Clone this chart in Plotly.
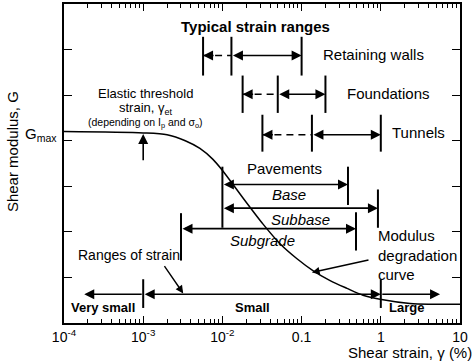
import numpy as np
import plotly.graph_objects as go

# ---------------- data ----------------
# Modulus degradation curve: shear strain (%) vs shear modulus (arbitrary units)
curve_strain = [0.0001, 0.001, 0.002, 0.0034, 0.0052, 0.0076, 0.0102, 0.0167,
                0.0326, 0.0534, 0.0875, 0.139, 0.229, 0.374, 0.596, 0.977, 2.34, 10]
curve_G = [4.20, 4.17, 4.13, 4.00, 3.83, 3.59, 3.33, 2.83,
           2.17, 1.74, 1.41, 1.15, 0.93, 0.76, 0.61, 0.52, 0.43, 0.41]

# Typical strain ranges (%): [dashed start, solid start, end]
walls_range = [0.0057, 0.013, 0.1]
foundations_range = [0.018, 0.05, 0.2]
tunnels_range = [0.032, 0.135, 1.0]

# Pavement layers (%): [start, end]
base_range = [0.01, 0.385]
subbase_range = [0.01, 0.92]
subgrade_range = [0.003, 0.486]

# Ranges of strain: class bounds and arrow extents (%)
class_bounds = [0.001, 1.0]
class_extent = [0.00018, 5.6]
elastic_threshold = 0.001

x_tick_vals = [1e-4, 1e-3, 1e-2, 0.1, 1, 10]
x_tick_text = ['10<sup>-4</sup>', '10<sup>-3</sup>', '10<sup>-2</sup>', '0.1', '1', '10']
minor_vals = [m * 10.0 ** e for e in range(-4, 1) for m in range(2, 10)]

# ---------------- figure ----------------
FONT = 'Liberation Sans, Arial, sans-serif'
fig = go.Figure()

fig.add_trace(go.Scatter(x=curve_strain, y=curve_G, mode='lines',
                         line=dict(color='black', width=1.5, shape='spline', smoothing=0.8),
                         hoverinfo='skip', showlegend=False))

# vertical bars
bars = [
    (walls_range[0], 5.43, 6.28), (walls_range[1], 5.43, 6.28), (walls_range[2], 5.43, 6.28),
    (foundations_range[0], 4.61, 5.43), (foundations_range[1], 4.61, 5.43), (foundations_range[2], 4.61, 5.43),
    (tunnels_range[0], 3.76, 4.57), (tunnels_range[1], 3.76, 4.57), (tunnels_range[2], 3.76, 4.57),
    (base_range[0], 2.09, 3.43), (base_range[1], 2.59, 3.43),
    (subbase_range[1], 2.09, 2.93),
    (subgrade_range[0], 1.37, 2.41), (subgrade_range[1], 1.59, 2.43),
    (class_bounds[0], 0.33, 0.96), (class_bounds[1], 0.33, 0.96),
]
bx, by = [], []
for xv, y0, y1 in bars:
    bx += [xv, xv, None]
    by += [y0, y1, None]
fig.add_trace(go.Scatter(x=bx, y=by, mode='lines', line=dict(color='black', width=2),
                         hoverinfo='skip', showlegend=False))

# dashed segments
for rng, yv in [(walls_range, 5.87), (foundations_range, 5.02), (tunnels_range, 4.13)]:
    fig.add_trace(go.Scatter(x=[rng[0], rng[1]], y=[yv, yv], mode='lines',
                             line=dict(color='black', width=1.6, dash='7px,5px'),
                             hoverinfo='skip', showlegend=False))

annotations = []
L = np.log10


def arrow(tip, tail, y, both=False, ytail=None):
    annotations.append(dict(x=L(tip), y=y, ax=L(tail), ay=y if ytail is None else ytail,
                            xref='x', yref='y', axref='x', ayref='y', text='', showarrow=True,
                            arrowhead=2, startarrowhead=2, arrowsize=1.25, startarrowsize=1.25,
                            arrowwidth=1.6, arrowcolor='black',
                            arrowside='end+start' if both else 'end'))


def head_left(tip, y):
    annotations.append(dict(x=L(tip), y=y, ax=12, ay=0, xref='x', yref='y', text='',
                            showarrow=True, arrowhead=2, arrowsize=1.25, arrowwidth=1.6,
                            arrowcolor='black'))


for rng, yv in [(walls_range, 5.87), (foundations_range, 5.02), (tunnels_range, 4.13)]:
    head_left(rng[0], yv)
    arrow(rng[2], rng[1], yv, both=True)

arrow(base_range[1], base_range[0], 3.04, both=True)
arrow(subbase_range[1], subbase_range[0], 2.52, both=True)
arrow(subgrade_range[1], subgrade_range[0], 2.07, both=True)

arrow(class_extent[0], class_bounds[0], 0.63)
arrow(class_bounds[1], class_bounds[0], 0.63, both=True)
arrow(class_extent[1], class_bounds[1], 0.63)

# elastic threshold arrow (pointing up to the curve)
annotations.append(dict(x=L(elastic_threshold), y=4.15, ax=L(elastic_threshold), ay=3.54,
                        xref='x', yref='y', axref='x', ayref='y', text='', showarrow=True,
                        arrowhead=2, arrowsize=1.25, arrowwidth=1.6, arrowcolor='black'))
# "Ranges of strain" pointer
annotations.append(dict(x=L(0.0032), y=0.65, ax=L(0.0018), ay=1.28,
                        xref='x', yref='y', axref='x', ayref='y', text='', showarrow=True,
                        arrowhead=2, arrowsize=1.1, arrowwidth=1.4, arrowcolor='black'))
# "Modulus degradation curve" pointer
annotations.append(dict(x=L(0.135), y=1.11, ax=L(0.73), ay=1.39,
                        xref='x', yref='y', axref='x', ayref='y', text='', showarrow=True,
                        arrowhead=2, arrowsize=1.1, arrowwidth=1.4, arrowcolor='black'))


def P(px, py):
    return (px - 64) / 396.0, (323 - py) / 321.0


def text(s, px, py, size=15, xanchor='center', align='center', angle=0):
    xp, yp = P(px, py)
    annotations.append(dict(x=xp, y=yp, xref='paper', yref='paper', text=s, showarrow=False,
                            xanchor=xanchor, yanchor='middle', align=align, textangle=angle,
                            font=dict(family=FONT, size=size, color='black')))


text('<b>Typical strain ranges</b>', 255, 25)
text('Retaining walls', 373, 53)
text('Foundations', 388, 92)
text('Tunnels', 418, 131)
text('Pavements', 284, 168)
text('<i>Base</i>', 289, 194)
text('<i>Subbase</i>', 300, 219)
text('<i>Subgrade</i>', 262, 240)
text('Elastic threshold', 145, 92, size=13)
text('strain, γ<sub>et</sub>', 146, 107, size=13)
text('(depending on I<sub>p</sub> and σ<sub>o</sub>)', 145, 122, size=10.5)
text('Ranges of strain', 129, 255, size=14)
text('Modulus<br>degradation<br>curve', 376, 255, xanchor='left', align='left')
text('<b>Very small</b>', 103, 307, size=13)
text('<b>Small</b>', 252, 307, size=13)
text('<b>Large</b>', 406, 307, size=13)
text('G<sub>max</sub>', 59, 133, size=15, xanchor='right')
text('Shear modulus, G', 12, 150, size=15, angle=-90)
text('Shear strain, γ (%)', 474, 353, size=15, xanchor='right')

fig.update_layout(
    width=474, height=362,
    margin=dict(l=64, r=14, t=2, b=39),
    paper_bgcolor='white', plot_bgcolor='white',
    showlegend=False,
    annotations=annotations,
    font=dict(family=FONT, size=14, color='black'),
    xaxis=dict(type='log', range=[-4, 1], tickmode='array', tickvals=x_tick_vals,
               ticktext=x_tick_text, ticks='inside', ticklen=7, tickwidth=1.2,
               tickcolor='black', showline=True, linewidth=2, linecolor='black',
               mirror='ticks', showgrid=False, zeroline=False,
               tickfont=dict(family=FONT, size=14, color='black'),
               minor=dict(tickmode='array', tickvals=minor_vals, ticks='inside',
                          ticklen=4, tickwidth=1, tickcolor='black', showgrid=False)),
    yaxis=dict(range=[0, 7], tickmode='array', tickvals=[1, 2, 3, 4, 5, 6],
               showticklabels=False, ticks='inside', ticklen=8, tickwidth=1.2,
               tickcolor='black', showline=True, linewidth=2, linecolor='black',
               mirror='ticks', showgrid=False, zeroline=False),
)

fig.write_html('out.html', config={'displayModeBar': False},
               post_script="document.body.style.margin='0px';document.body.style.overflow='hidden';")
